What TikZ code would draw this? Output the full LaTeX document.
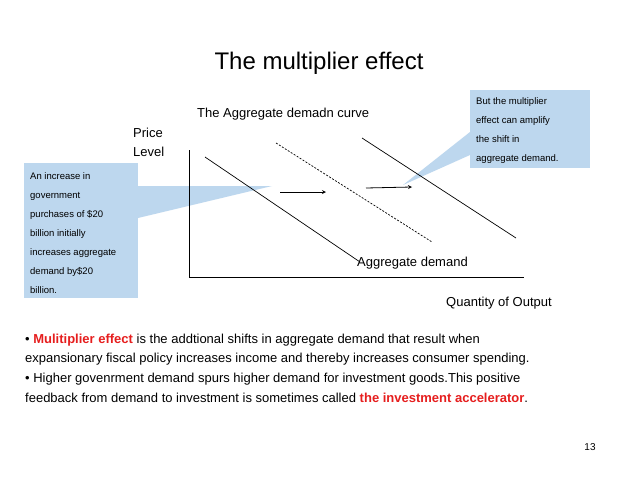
\documentclass[tikz,border=0pt]{standalone}
\usepackage{fontspec}
\setmainfont{Liberation Sans}
\definecolor{callb}{RGB}{189,215,238}
\definecolor{redt}{RGB}{230,30,30}
\begin{document}
\begin{tikzpicture}[x=1pt,y=-1pt,
  lbl/.style={inner sep=0pt,anchor=west,font=\fontsize{13}{15}\selectfont},
  small/.style={inner sep=0pt,anchor=north west,align=left,font=\fontsize{9.5}{19}\selectfont},
  body/.style={inner sep=0pt,anchor=west,font=\fontsize{13}{15}\selectfont},
  curve/.style={line width=0.7pt},
  shiftarrow/.style={-stealth,line width=0.8pt}]
\useasboundingbox (0,0) rectangle (638,479);
\fill[white] (0,0) rectangle (638,479);
% callouts
\fill[callb] (24,163) rectangle (138,298);
\fill[callb] (138,186) -- (272,186) -- (138,218) -- cycle;
\fill[callb] (470,90) rectangle (590,168);
\fill[callb] (470,132) -- (403,185) -- (470,155) -- cycle;
\node[small] (c1) at (30,172) {An increase in\\government\\purchases of \$20\\billion initially\\increases aggregate\\demand by\$20\\billion.};
\node[small] (c2) at (476,97) {But the multiplier\\effect can amplify\\the shift in\\aggregate demand.};
% axes
\coordinate (o) at (189,277);
\coordinate (ytop) at (189,150);
\coordinate (xr) at (524,277);
\draw[line width=0.8pt] (ytop) -- (o) -- (xr);
% curves
\coordinate (a1) at (205,157); \coordinate (a2) at (360,262);
\coordinate (b1) at (276,143); \coordinate (b2) at (432,242);
\coordinate (d1) at (362,138); \coordinate (d2) at (516,238);
\draw[curve] (a1) -- (a2);
\draw[curve,dash pattern=on 2pt off 1.5pt] (b1) -- (b2);
\draw[curve] (d1) -- (d2);
\coordinate (s1) at (280,192); \coordinate (s2) at (326,192);
\coordinate (s3) at (366,188); \coordinate (s4) at (412,187);
\draw[shiftarrow] (s1) -- (s2);
\draw[shiftarrow] (s3) -- (s4);
% texts
\node[inner sep=0pt,font=\fontsize{24}{28}\selectfont] (t) at (319,63) {The multiplier effect};
\node[lbl] (l1) at (197,114) {The Aggregate demadn curve};
\node[lbl] (l2) at (133,133) {Price};
\node[lbl] (l3) at (133,152) {Level};
\node[lbl] (l4) at (357,263) {Aggregate demand};
\node[lbl] (l5) at (446,303) {Quantity of Output};
\node[body] (b1t) at (25,340) {• {\color{redt}\bfseries Mulitiplier effect} is the addtional shifts in aggregate demand that result when};
\node[body] (b2t) at (25,359) {expansionary fiscal policy increases income and thereby increases consumer spending.};
\node[body] (b3t) at (25,379) {• Higher govenrment demand spurs higher demand for investment goods.This positive};
\node[body] (b4t) at (25,398) {feedback from demand to investment is sometimes called {\color{redt}\bfseries the investment accelerator}.};
\node[inner sep=0pt,font=\fontsize{10}{12}\selectfont] (pg) at (590,447) {13};
\end{tikzpicture}
\end{document}
